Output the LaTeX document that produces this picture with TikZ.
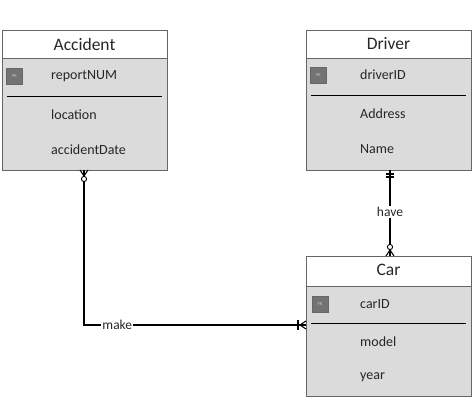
\documentclass[tikz,border=0pt]{standalone}
\usepackage{fontspec}
\setmainfont{Carlito}
\begin{document}
\begin{tikzpicture}[x=1pt,y=-1pt,
  body/.style={draw=black!60,fill=black!14,line width=0.8pt},
  head/.style={draw=black!60,fill=white,line width=0.8pt},
  ttl/.style={font=\fontsize{17.5}{20}\selectfont,text=black!85},
  att/.style={anchor=west,inner sep=0pt,font=\fontsize{14}{16}\selectfont,text=black!85},
  pk/.style={draw=black!60,fill=black!55,minimum size=16pt,inner sep=0pt,text=white!80!black,font=\fontsize{4.5}{5}\selectfont},
  rel/.style={line width=1.1pt},
  lbl/.style={fill=white,inner sep=1pt,font=\fontsize{13.5}{15}\selectfont,text=black!85}]
\useasboundingbox (0,0) rectangle (474,406);
% Accident
\draw[body] (2,30) rectangle (167,170);
\draw[head] (2,30) rectangle (167,58);
\node[ttl] (acc) at (84.5,44) {Accident};
\node[pk] (pk1) at (14.5,76) {PK};
\node[att] (a1) at (51,76) {reportNUM};
\draw[line width=0.9pt] (7,96) -- (162,96);
\node[att] (a2) at (51,115) {location};
\node[att] (a3) at (51,150) {accidentDate};
\coordinate (accB) at (84,170);
% Driver
\draw[body] (306,30) rectangle (471,170);
\draw[head] (306,30) rectangle (471,58);
\node[ttl] (drv) at (388.5,44) {Driver};
\node[pk] (pk2) at (318.5,75) {PK};
\node[att] (d1) at (360,75) {driverID};
\draw[line width=0.9pt] (311,95) -- (466,95);
\node[att] (d2) at (360,114) {Address};
\node[att] (d3) at (360,149) {Name};
\coordinate (drvB) at (390,170);
% Car
\draw[body] (306,256) rectangle (471,396);
\draw[head] (306,256) rectangle (471,286);
\node[ttl] (car) at (388.5,270) {Car};
\node[pk] (pk3) at (320,304) {PK};
\node[att] (c1) at (360,304) {carID};
\draw[line width=0.9pt] (311,323) -- (466,323);
\node[att] (c2) at (360,342) {model};
\node[att] (c3) at (360,377) {year};
\coordinate (carT) at (390,256);
\coordinate (carL) at (306,325);
% make
\draw[rel] (accB) -- (84,325) -- node[lbl,pos=0.15] (mk) {make} (carL);
\draw[rel] (80,170) -- (84,176) -- (88,170);
\draw[line width=0.9pt,fill=white] (84,179) circle (2.6pt);
\draw[rel] (306,321) -- (300,325) -- (306,329);
\draw[rel] (298,320) -- (298,330);
% have
\draw[rel] (drvB) -- node[lbl,pos=0.49] (hv) {have} (carT);
\draw[rel] (386,174) -- (394,174);
\draw[rel] (386,177) -- (394,177);
\draw[rel] (386,256) -- (390,250) -- (394,256);
\draw[line width=0.9pt,fill=white] (390,247) circle (2.6pt);
\end{tikzpicture}
\end{document}
